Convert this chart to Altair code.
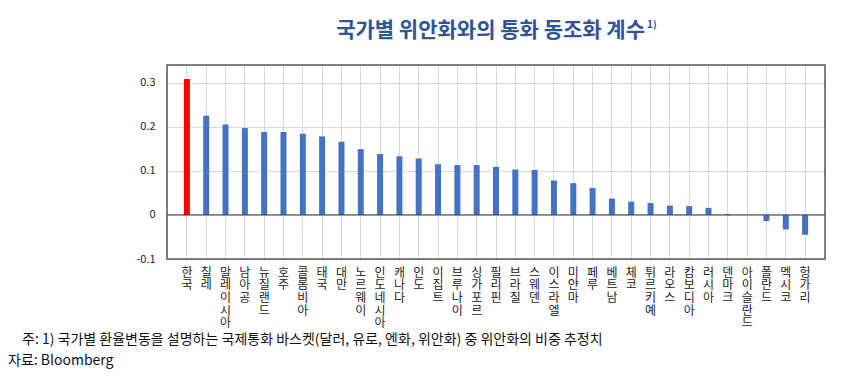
import altair as alt
import pandas as pd

countries = ["한국", "칠레", "말레이시아", "남아공", "뉴질랜드", "호주", "콜롬비아", "태국",
             "대만", "노르웨이", "인도네시아", "캐나다", "인도", "이집트", "브루나이", "싱가포르",
             "필리핀", "브라질", "스웨덴", "이스라엘", "미얀마", "페루", "베트남", "체코",
             "튀르키예", "라오스", "캄보디아", "러시아", "덴마크", "아이슬란드", "폴란드", "멕시코", "헝가리"]
values = [0.308, 0.225, 0.205, 0.197, 0.188, 0.188, 0.184, 0.178,
          0.166, 0.149, 0.138, 0.133, 0.128, 0.115, 0.113, 0.113,
          0.109, 0.103, 0.102, 0.078, 0.072, 0.061, 0.037, 0.030,
          0.027, 0.021, 0.020, 0.016, 0.002, 0.0, -0.014, -0.033, -0.045]
highlight = ["한국"]

title_text = "국가별 위안화와의 통화 동조화 계수"
title_sup = "1)"
note1 = "주: 1) 국가별 환율변동을 설명하는 국제통화 바스켓(달러, 유로, 엔화, 위안화) 중 위안화의 비중 추정치"
note2 = "자료: Bloomberg"
y_ticks = [-0.1, 0, 0.1, 0.2, 0.3]

FONT = "Noto Sans CJK KR"

df = pd.DataFrame({
    "country": countries,
    "value": values,
    "grp": ["hl" if c in highlight else "base" for c in countries],
})

W, H = 658, 194

bars = alt.Chart(df).mark_bar(size=6).encode(
    x=alt.X("country:N", sort=countries, title=None,
            scale=alt.Scale(paddingInner=0, paddingOuter=0.53),
            axis=alt.Axis(labelAngle=0, labelExpr="split(datum.label, '')",
                          labelBaseline="top", labelAlign="center",
                          labelLineHeight=12.7, labelFontSize=12, labelFont=FONT,
                          labelColor="#222222", labelPadding=8,
                          ticks=False, domain=False, grid=True, bandPosition=0.5,
                          gridColor="#d9d9d9", gridWidth=1)),
    y=alt.Y("value:Q", title=None,
            scale=alt.Scale(domain=[-0.1, 0.34], nice=False, zero=False),
            axis=alt.Axis(values=y_ticks, ticks=False, domain=False,
                          labelExpr="datum.value == 0 ? '0' : (datum.value < 0 ? '-' + format(-datum.value, '.1f') : format(datum.value, '.1f'))",
                          labelFontSize=11, labelFont=FONT, labelColor="#222222",
                          labelPadding=12, grid=True, gridColor="#d9d9d9", gridWidth=1)),
    color=alt.Color("grp:N", scale=alt.Scale(domain=["hl", "base"], range=["#ff0000", "#4472c4"]),
                    legend=None),
)

zero = alt.Chart(pd.DataFrame({"z": [0]})).mark_rule(color="#3a3a3a", strokeWidth=1).encode(
    y=alt.Y("z:Q"))

frame = alt.Chart(pd.DataFrame({"f": [1]})).mark_rect(
    fill="white", fillOpacity=0, stroke="#595959", strokeWidth=1.5).encode(
    x=alt.value(0), x2=alt.value(W), y=alt.value(0), y2=alt.value(H))

title = alt.Chart(pd.DataFrame({"t": [title_text]})).mark_text(
    font=FONT, fontSize=21, fontWeight="bold", color="#2f5597", align="right",
    baseline="alphabetic").encode(text="t:N", x=alt.value(478), y=alt.value(-28))
sup = alt.Chart(pd.DataFrame({"t": [title_sup]})).mark_text(
    font=FONT, fontSize=10, fontWeight="bold", color="#2f5597", align="left",
    baseline="alphabetic").encode(text="t:N", x=alt.value(480), y=alt.value(-37))

n1 = alt.Chart(pd.DataFrame({"t": [note1]})).mark_text(
    font=FONT, fontSize=14, color="#111111", align="left", baseline="alphabetic").encode(
    text="t:N", x=alt.value(-145), y=alt.value(279))
n2 = alt.Chart(pd.DataFrame({"t": [note2]})).mark_text(
    font=FONT, fontSize=14, color="#111111", align="left", baseline="alphabetic").encode(
    text="t:N", x=alt.value(-159), y=alt.value(300))

chart = alt.layer(bars, zero, frame, title, sup, n1, n2).properties(
    width=W, height=H,
    autosize=alt.AutoSizeParams(type="none"),
    padding={"left": 159, "top": 57, "right": 20, "bottom": 117},
).configure_view(stroke="#595959", strokeWidth=1.5).configure(background="white")

chart.save("out.html", embed_options={"renderer": "svg", "actions": False})
